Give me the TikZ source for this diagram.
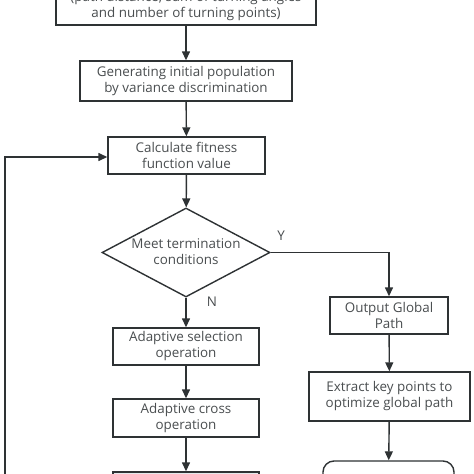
\documentclass[tikz,border=0pt]{standalone}
\usepackage{fontspec}
\setmainfont{Open Sans}
\usetikzlibrary{shapes.geometric,arrows.meta}
\definecolor{ln}{HTML}{2E3234}
\definecolor{tx}{HTML}{4A4E50}
\definecolor{gfill}{HTML}{E4E9EB}
\begin{document}
\begin{tikzpicture}[x=1pt,y=-1pt,
  every node/.style={font=\fontsize{13.4}{16}\selectfont, text=tx},
  box/.style={draw=ln, line width=1.4pt, rectangle, inner sep=0pt, align=center},
  dia/.style={draw=ln, line width=1.4pt, diamond, inner sep=0pt, aspect=1.89},
  lbl/.style={inner sep=0pt, align=center},
  arr/.style={draw=ln, line width=1.4pt, -{Triangle[length=9pt,width=8pt]}},
  ln/.style={draw=ln, line width=1.4pt}]
\clip (0,0) rectangle (474,474);
\useasboundingbox (0,0) rectangle (474,474);
\fill[white] (0,0) rectangle (474,474);

\node[box, minimum width=260pt, minimum height=38pt] (top) at (186,6) {(path distance, sum of turning angles\\and number of turning points)};
\node[box, minimum width=212pt, minimum height=40pt] (init) at (186,81) {Generating initial population\\by variance discrimination};
\node[box, minimum width=157pt, minimum height=37pt] (fit) at (186.5,155.5) {Calculate fitness\\function value};
\node[dia, minimum width=168pt, minimum height=89pt] (term) at (186,252.5) {};
\node[lbl] (termt) at (186,252) {Meet termination\\conditions};
\node[box, minimum width=118pt, minimum height=37pt] (out) at (389,315.5) {Output Global\\Path};
\node[box, minimum width=146pt, minimum height=37pt] (sel) at (186,346.5) {Adaptive selection\\operation};
\node[box, minimum width=146pt, minimum height=38pt] (cross) at (186,418) {Adaptive cross\\operation};
\node[box, fill=gfill, minimum width=146pt, minimum height=37pt] (mut) at (186,490.5) {};
\node[box, minimum width=161pt, minimum height=49pt] (key) at (389.5,396.5) {Extract key points to\\optimize global path};
\node[box, rounded corners=11pt, minimum width=131pt, minimum height=38pt] (end) at (388.5,480) {};

\coordinate (corner) at (389,252.5);
\coordinate (loopb) at (5,490);
\coordinate (loopt) at (5,157);

\draw[arr] (top) -- (init);
\draw[arr] (init) -- (fit);
\draw[arr] (fit) -- (term);
\draw[arr] (term.south) -- (sel);
\draw[arr] (sel) -- (cross);
\draw[arr] (cross) -- (mut);
\draw[arr] (term.east) -- (corner) -- (out);
\draw[arr] (out) -- (key);
\draw[arr] (key) -- (end);
\draw[arr] (loopb) -- (loopt) -- (fit.west |- loopt);

\node[lbl] (ylab) at (281,236) {Y};
\node[lbl] (nlab) at (212,302) {N};
\end{tikzpicture}
\end{document}
